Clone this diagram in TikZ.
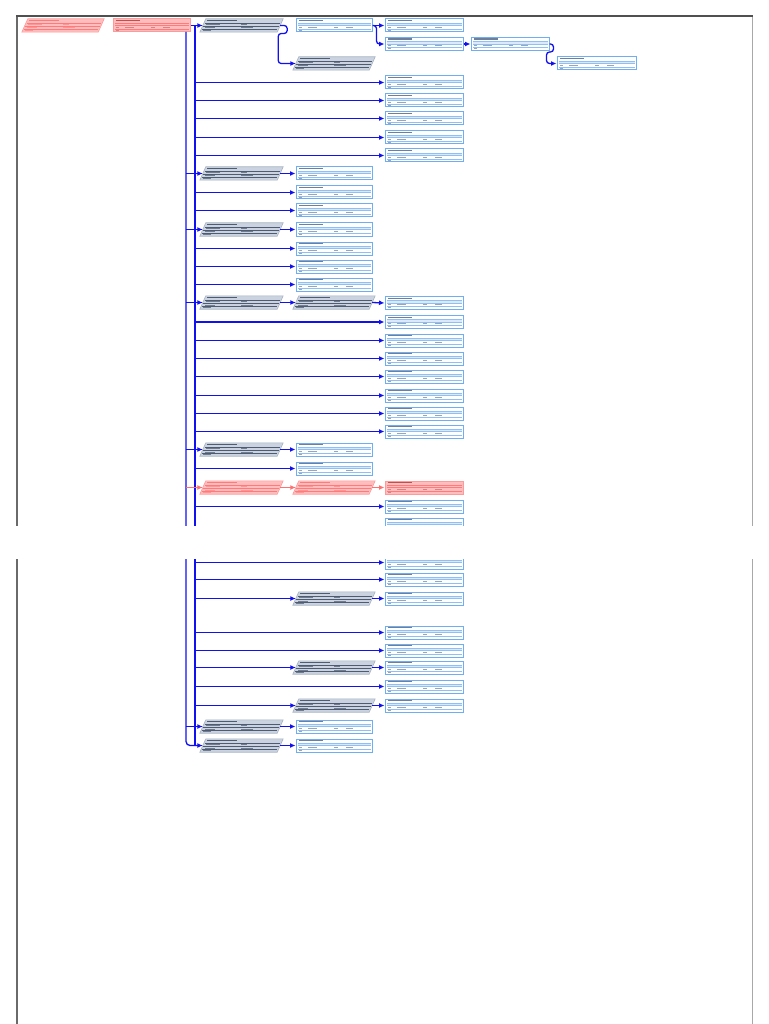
\documentclass[tikz,border=0pt]{standalone}
\usetikzlibrary{arrows.meta,calc}
\definecolor{arrc}{HTML}{1010F0}
\definecolor{bbord}{HTML}{6FAEF2}
\definecolor{bline}{HTML}{8EC0F5}
\definecolor{bband}{HTML}{DCE9FB}
\definecolor{btxt}{HTML}{6F7F98}
\definecolor{gfill}{HTML}{CAD3DF}
\definecolor{gbord}{HTML}{A8B3C3}
\definecolor{gline}{HTML}{4D5C72}
\definecolor{pfill}{HTML}{FFBDBD}
\definecolor{pbord}{HTML}{FF9A9A}
\definecolor{pline}{HTML}{FF7A7A}
\definecolor{ptxt}{HTML}{C05050}
\definecolor{parr}{HTML}{FF7070}
\definecolor{frameA}{HTML}{505050}
\definecolor{frameB}{HTML}{6A6A6A}
\definecolor{frameC}{HTML}{A8A8A8}

\tikzset{
  rbox/.style={rectangle, draw=bbord, line width=1pt, fill=white, minimum height=13pt, inner sep=0pt},
  pcore/.style={rectangle, minimum height=13pt, inner sep=0pt},
  arr/.style={draw=arrc, line width=1.3pt, -{Latex[length=5.5pt,width=5pt]}},
  parrow/.style={draw=parr, line width=1.3pt, -{Latex[length=5.5pt,width=5pt]}},
  trunk/.style={draw=arrc, line width=1.3pt},
}

\newcommand\rdeco[4]{%
  \fill[#3] ($(#1.north west)+(2,4.3)$) rectangle ($(#1.north east)+(-2,7.2)$);
  \draw[#2,line width=0.5pt] ($(#1.north west)+(2,4.3)$) -- ($(#1.north east)+(-2,4.3)$);
  \draw[#2,line width=0.5pt] ($(#1.north west)+(2,7.2)$) -- ($(#1.north east)+(-2,7.2)$);
  \draw[#2,line width=0.5pt] ($(#1.north west)+(2,10.3)$) -- ($(#1.north east)+(-2,10.3)$);
  \fill[#4] ($(#1.north west)+(3,1.5)$) rectangle ++(24,1.1);
  \fill[#4!70] ($(#1.north west)+(3,8.2)$) rectangle ++(3,0.9);
  \fill[#4!70] ($(#1.north west)+(12,8.2)$) rectangle ++(9,0.9);
  \fill[#4!70] ($(#1.north west)+(38,8.2)$) rectangle ++(4,0.9);
  \fill[#4!70] ($(#1.north west)+(50,8.2)$) rectangle ++(7,0.9);
  \fill[#4!70] ($(#1.north west)+(3,11.2)$) rectangle ++(3,0.9);
}
\newcommand\pdeco[4]{%
  \filldraw[fill=#2, draw=#3, line width=0.6pt] ($(#1.south west)+(-3,0)$) -- ($(#1.north west)+(3,0)$) -- ($(#1.north east)+(3,0)$) -- ($(#1.south east)+(-3,0)$) -- cycle;
  \draw[#4, line width=0.6pt] ($(#1.north west)+(2,4.2)$) -- ($(#1.north east)+(0,4.2)$);
  \draw[#4, line width=0.6pt] ($(#1.north west)+(0.5,7.6)$) -- ($(#1.north east)+(-1.5,7.6)$);
  \draw[#4, line width=0.6pt] ($(#1.north west)+(-0.9,10.6)$) -- ($(#1.north east)+(-2.9,10.6)$);
  \fill[#4] ($(#1.north west)+(4,1.4)$) rectangle ++(30,1.1);
  \fill[#4!80] ($(#1.north west)+(3,5.3)$) rectangle ++(14,0.9);
  \fill[#4!80] ($(#1.north west)+(38,5.3)$) rectangle ++(6,0.9);
  \fill[#4!80] ($(#1.north west)+(2,8.7)$) rectangle ++(10,0.9);
  \fill[#4!80] ($(#1.north west)+(38,8.7)$) rectangle ++(12,0.9);
  \fill[#4!80] ($(#1.north west)+(0.5,11.6)$) rectangle ++(8,0.8);
}
\newcommand\mkrect[4]{\node[rbox, minimum width=#4pt] (#1) at (#2,#3) {}; \rdeco{#1}{bline}{bband}{btxt}}
\newcommand\mkprect[4]{\node[rbox, draw=pbord, fill=pfill, minimum width=#4pt] (#1) at (#2,#3) {}; \rdeco{#1}{pline}{pfill}{ptxt}}
\newcommand\mkpara[4]{\node[pcore, minimum width=#4pt] (#1) at (#2,#3) {}; \pdeco{#1}{gfill}{gbord}{gline}}
\newcommand\mkppara[4]{\node[pcore, minimum width=#4pt] (#1) at (#2,#3) {}; \pdeco{#1}{pfill}{pbord}{pline}}

\begin{document}
\begin{tikzpicture}[x=1pt,y=-1pt]
\useasboundingbox (0,0) rectangle (768,1024);
\fill[white] (0,0) rectangle (768,1024);
% page frame
\draw[frameB, line width=1.2pt] (17,16) -- (17,1024);
\draw[frameC, line width=1pt] (752,16) -- (752,1024);
\draw[frameA, line width=1.6pt] (16.4,16) -- (752.5,16);

% top row
\mkppara{A}{63}{25.5}{76}
\mkprect{B}{151.5}{25.5}{77}

% left column
\mkpara{C}{241.5}{25.5}{77}
\mkpara{L2}{241.5}{173.5}{77}
\mkpara{L3}{241.5}{229.5}{77}
\mkpara{L4}{241.5}{302.5}{77}
\mkpara{L5}{241.5}{449.5}{77}
\mkppara{L6}{241.5}{487.5}{77}
\mkpara{L7}{241.5}{726.5}{77}
\mkpara{L8}{241.5}{745.5}{77}

% middle column
\mkrect{D}{334}{25.5}{76}
\mkpara{M1}{334}{63.5}{76}
\mkrect{M2}{334}{173.5}{76}
\mkrect{M3}{334}{192.5}{76}
\mkrect{M4}{334}{210.5}{76}
\mkrect{M5}{334}{229.5}{76}
\mkrect{M6}{334}{248.5}{76}
\mkrect{M7}{334}{266.5}{76}
\mkrect{M8}{334}{284.5}{76}
\mkpara{M9}{334}{302.5}{76}
\mkrect{M10}{334}{449.5}{76}
\mkrect{M11}{334}{468.5}{76}
\mkppara{M12}{334}{487.5}{76}
\mkpara{M13}{334}{598.5}{76}
\mkpara{M14}{334}{667.5}{76}
\mkpara{M15}{334}{705.5}{76}
\mkrect{M16}{334}{726.5}{76}
\mkrect{M17}{334}{745.5}{76}

% right column
\mkrect{E}{424}{25.5}{78}
\mkrect{E2}{424}{44}{78}
\mkrect{E3}{510}{44}{78}
\mkrect{E4}{596.5}{63.5}{79}
\mkrect{R1}{424}{82.5}{78}
\mkrect{R2}{424}{100.5}{78}
\mkrect{R3}{424}{118.5}{78}
\mkrect{R4}{424}{137.5}{78}
\mkrect{R5}{424}{155.5}{78}
\mkrect{R6}{424}{303}{78}
\mkrect{R7}{424}{322}{78}
\mkrect{R8}{424}{340.5}{78}
\mkrect{R9}{424}{358.5}{78}
\mkrect{R10}{424}{376.5}{78}
\mkrect{R11}{424}{395.5}{78}
\mkrect{R12}{424}{413.5}{78}
\mkrect{R13}{424}{431.5}{78}
\mkprect{R14}{424}{487.5}{78}
\mkrect{R15}{424}{506.5}{78}
\mkrect{R16}{424}{524.5}{78}
\mkrect{R17}{424}{562.5}{78}
\mkrect{R18}{424}{579.5}{78}
\mkrect{R19}{424}{598.5}{78}
\mkrect{R20}{424}{632.5}{78}
\mkrect{R21}{424}{650.5}{78}
\mkrect{R22}{424}{667.5}{78}
\mkrect{R23}{424}{686.5}{78}
\mkrect{R24}{424}{705.5}{78}

% connectors
\draw[arr] (B.east) -- (C.west);
\coordinate (t1s) at (195,25.5);
\coordinate (t1e) at (195,745.5);
\draw[trunk] (t1s) -- (t1e);
\coordinate (t0s) at (186,32);
\draw[arr, rounded corners=4pt] (t0s) -- (t0s |- L8.west) -- (L8.west);
\foreach \nn in {L2,L3,L4,L5,L7} { \draw[arr] (t0s |- \nn.west) -- (\nn.west); }
\draw[parrow] (t0s |- L6.west) -- (L6.west);
\foreach \nn in {R1,R2,R3,R4,R5,R7,R8,R9,R10,R11,R12,R13,R15,R17,R18,R20,R21,R23,M3,M4,M6,M7,M8,M11,M13,M14,M15} { \draw[arr] (t1s |- \nn.west) -- (\nn.west); }
\draw[arr] (L2.east) -- (M2.west);
\draw[arr] (L3.east) -- (M5.west);
\draw[arr] (L4.east) -- (M9.west);
\draw[arr] (L5.east) -- (M10.west);
\draw[arr] (L7.east) -- (M16.west);
\draw[arr] (L8.east) -- (M17.west);
\draw[parrow] (L6.east) -- (M12.west);
\draw[parrow] (M12.east) -- (R14.west);
\draw[arr] (M9.east) -- (R6.west);
\draw[arr] (M13.east) -- (R19.west);
\draw[arr] (M14.east) -- (R22.west);
\draw[arr] (M15.east) -- (R24.west);
\draw[arr, rounded corners=3pt] (C.east) -- ++(7,0) -- ++(0,8) -- ++(-9,0) |- (M1.west);
\draw[arr] (D.east) -- (E.west);
\draw[arr, rounded corners=3pt] (D.east) -- ++(4,0) |- (E2.west);
\draw[arr] (E2.east) -- (E3.west);
\draw[arr, rounded corners=3pt] (E3.east) -- ++(4,0) -- ++(0,8) -- ++(-7,0) |- (E4.west);

% page break band
\fill[white] (0,526) rectangle (768,559);
\end{tikzpicture}
\end{document}
